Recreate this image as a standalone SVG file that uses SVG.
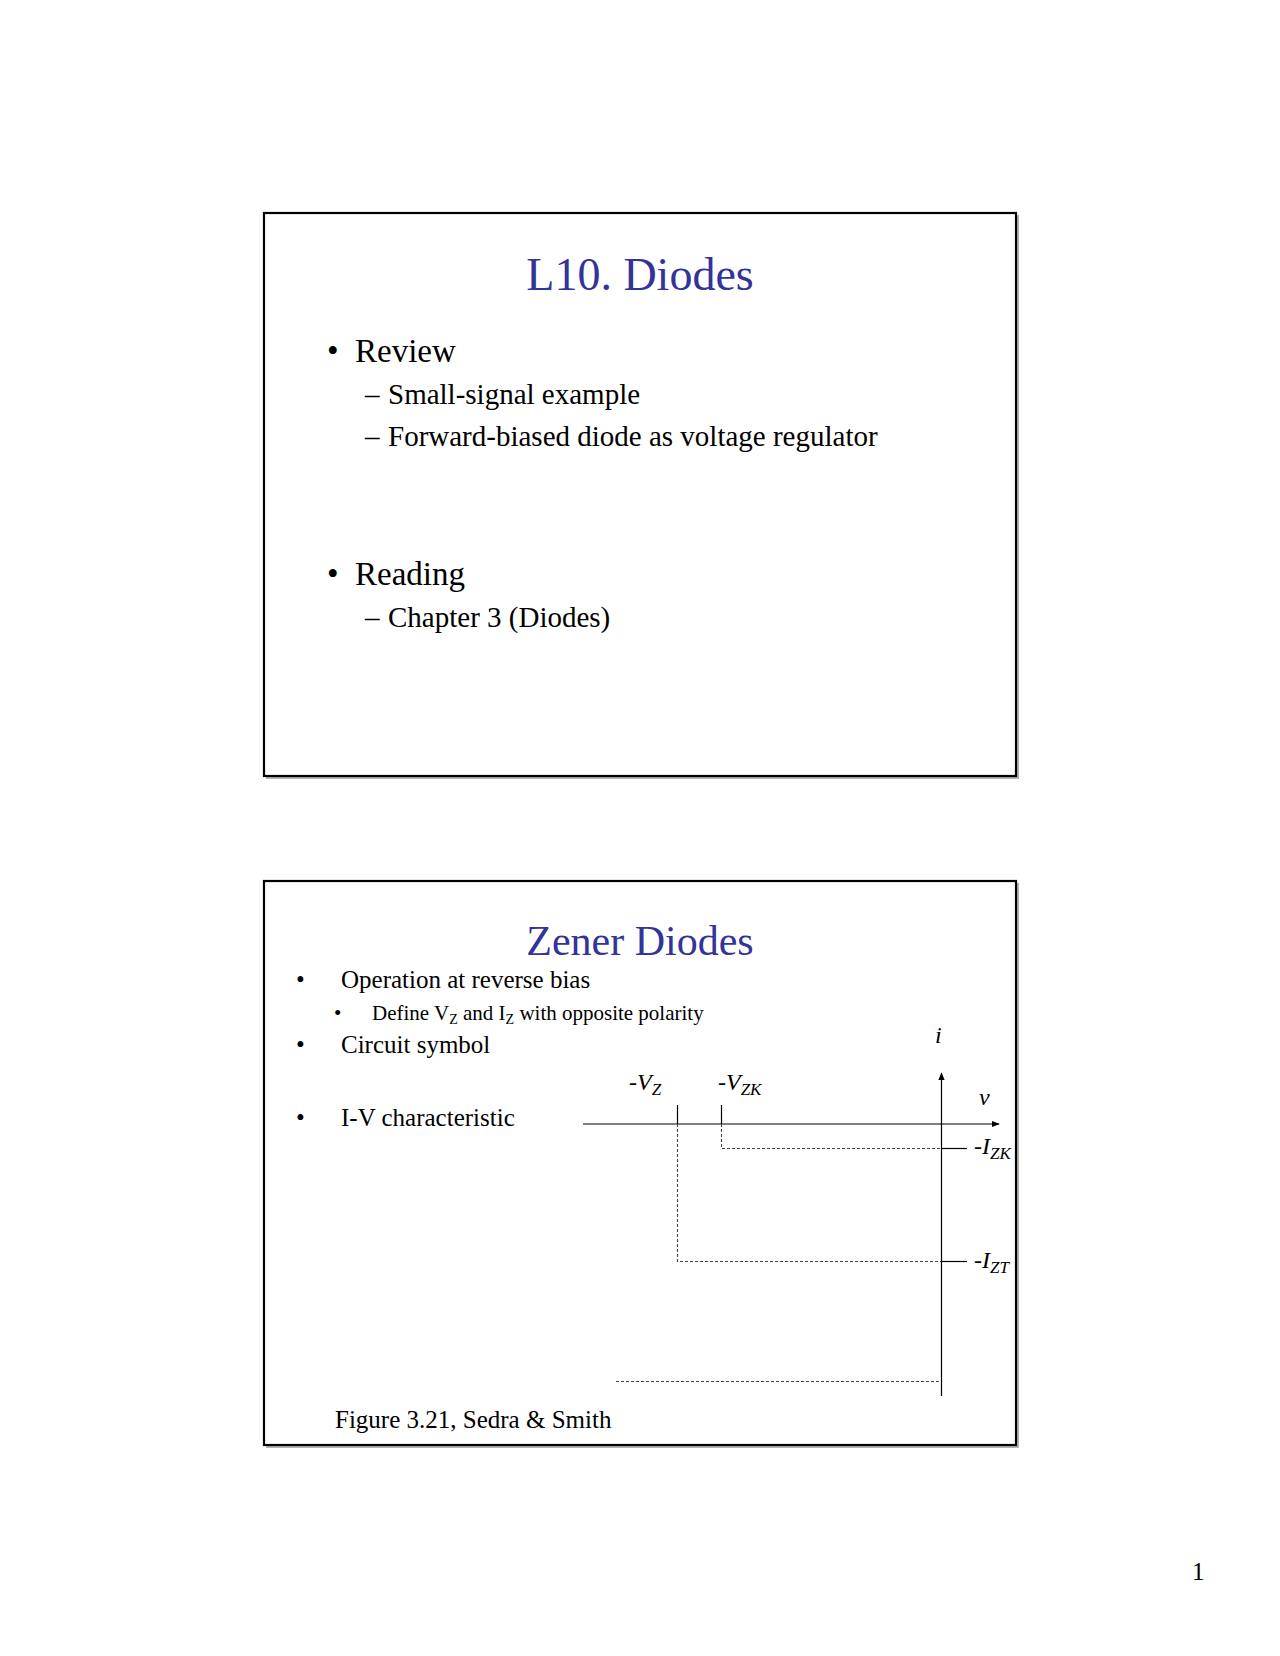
<svg xmlns="http://www.w3.org/2000/svg" width="1280" height="1656" viewBox="0 0 1280 1656">
<style>
text{font-family:"Liberation Serif","Times New Roman",serif;fill:#000}
.title{font-size:46px;fill:#333399;text-anchor:middle}
.title2{font-size:42px;fill:#333399;text-anchor:middle}
.l1{font-size:33px}
.l2{font-size:29px}
.b1{font-size:25px}
.b2{font-size:21px}
.lab{font-size:24px;font-style:italic}
.frame{fill:#fff;stroke:#000;stroke-width:2.2}
.shadow{fill:none;stroke:#999;stroke-width:1.5}
.axis{stroke:#000;stroke-width:1.2;fill:none}
.dash{stroke:#444;stroke-width:1.1;stroke-dasharray:3 2;fill:none}
</style>
<defs>
<marker id="arr" viewBox="0 0 10 10" refX="9" refY="5" markerWidth="8" markerHeight="8" markerUnits="userSpaceOnUse" orient="auto">
<path d="M0,1 L10,5 L0,9 Z" fill="#000"/>
</marker>
</defs>
<rect width="1280" height="1656" fill="#fff"/>

<g id="slide1">
<polyline class="shadow" points="266,778 1018,778 1018,215"/>
<rect class="frame" x="264" y="213" width="752" height="563"/>
<text class="title" x="640" y="290">L10. Diodes</text>
<text class="l1" x="327" y="362">•</text>
<text class="l1" x="355" y="362">Review</text>
<text class="l2" x="365" y="404">–</text>
<text class="l2" x="388" y="404">Small-signal example</text>
<text class="l2" x="365" y="446">–</text>
<text class="l2" x="388" y="446">Forward-biased diode as voltage regulator</text>
<text class="l1" x="327" y="585">•</text>
<text class="l1" x="355" y="585">Reading</text>
<text class="l2" x="365" y="627">–</text>
<text class="l2" x="388" y="627">Chapter 3 (Diodes)</text>
</g>

<g id="slide2">
<polyline class="shadow" points="266,1447 1018,1447 1018,883"/>
<rect class="frame" x="264" y="881" width="752" height="564"/>
<text class="title2" x="640" y="955">Zener Diodes</text>
<text class="b1" x="296" y="988">•</text>
<text class="b1" x="341" y="988">Operation at reverse bias</text>
<text class="b2" x="334" y="1020">•</text>
<text class="b2" x="372" y="1020">Define V<tspan font-size="14" dy="4">Z</tspan><tspan dy="-4"> and I</tspan><tspan font-size="14" dy="4">Z</tspan><tspan dy="-4"> with opposite polarity</tspan></text>
<text class="b1" x="296" y="1053">•</text>
<text class="b1" x="341" y="1053">Circuit symbol</text>
<text class="b1" x="296" y="1126">•</text>
<text class="b1" x="341" y="1126">I-V characteristic</text>
<text class="b1" x="335" y="1428">Figure 3.21, Sedra &amp; Smith</text>
</g>

<g id="iv-graph">
<text class="lab" x="935" y="1043">i</text>
<text class="lab" x="979" y="1105">v</text>
<text class="lab" x="629" y="1090">-V<tspan font-size="17" dy="5">Z</tspan></text>
<text class="lab" x="718" y="1090">-V<tspan font-size="17" dy="5">ZK</tspan></text>
<text class="lab" x="974" y="1154">-I<tspan font-size="17" dy="5">ZK</tspan></text>
<text class="lab" x="974" y="1268">-I<tspan font-size="17" dy="5">ZT</tspan></text>
</g>

<g id="connectors">
<line class="axis" x1="583" y1="1124" x2="999" y2="1124" marker-end="url(#arr)"/>
<line class="axis" x1="941.5" y1="1396" x2="941.5" y2="1073" marker-end="url(#arr)"/>
<line class="axis" x1="677.5" y1="1105" x2="677.5" y2="1124"/>
<line class="axis" x1="721.5" y1="1105" x2="721.5" y2="1124"/>
<polyline class="dash" points="677.5,1124 677.5,1261.5 941,1261.5"/>
<polyline class="dash" points="721.5,1124 721.5,1148.5 941,1148.5"/>
<line class="axis" x1="941" y1="1148.5" x2="967" y2="1148.5"/>
<line class="axis" x1="941" y1="1261.5" x2="967" y2="1261.5"/>
<line class="dash" x1="616" y1="1381.5" x2="941" y2="1381.5"/>
</g>

<text class="b1" x="1192" y="1580">1</text>
</svg>
